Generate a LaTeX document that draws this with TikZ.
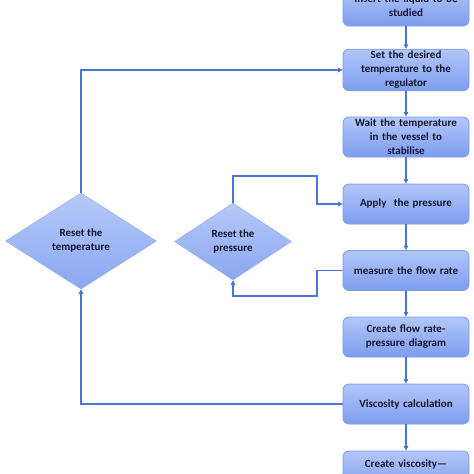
\documentclass[tikz,border=0pt]{standalone}
\usepackage{fontspec}
\setmainfont{Carlito}
\usetikzlibrary{shapes.geometric,arrows.meta}
\definecolor{linkblue}{HTML}{4A74D6}
\definecolor{boxtop}{HTML}{B2C6F8}
\definecolor{boxbot}{HTML}{7D9DEF}
\definecolor{boxline}{HTML}{7B98E0}
\definecolor{txt}{HTML}{14142E}
\begin{document}
\begin{tikzpicture}[x=1pt,y=-1pt,
  stepbox/.style={draw=boxline,line width=0.8pt,rounded corners=6pt,top color=boxtop,bottom color=boxbot,
    minimum width=126pt,minimum height=40pt,text width=120pt,align=center,inner sep=2pt,
    text=txt,font=\fontsize{11}{14}\selectfont\bfseries},
  decide/.style={diamond,draw=boxline!80,line width=0.5pt,top color=boxtop!95!white,bottom color=boxbot!90!white,
    inner sep=0pt,align=center,text=txt,font=\fontsize{11}{14}\selectfont\bfseries},
  flow/.style={draw=linkblue,line width=1.1pt,-{Triangle[width=4.5pt,length=4.5pt]}}]
\useasboundingbox (0,0) rectangle (474,474);
\clip (0,0) rectangle (474,474);
\node[stepbox] (b1) at (406,6) {Insert the liquid to be\\studied};
\node[stepbox] (b2) at (406,70) {Set the desired\\temperature to the\\regulator};
\node[stepbox] (b3) at (406,137) {Wait the temperature\\in the vessel to\\stabilise};
\node[stepbox] (b4) at (406,204) {Apply\ \ the pressure};
\node[stepbox] (b5) at (406,270.5) {measure the flow rate};
\node[stepbox] (b6) at (406,337) {Create flow rate-\\pressure diagram};
\node[stepbox] (b7) at (406,404) {Viscosity calculation};
\node[stepbox] (b8) at (406,471) {Create viscosity---\\\mbox{}};
\node[decide,minimum width=151pt,minimum height=96pt] (tdiam) at (81,241) {Reset the\\temperature};
\node[decide,minimum width=117pt,minimum height=77pt] (pdiam) at (233,241.5) {Reset the\\pressure};
\coordinate (p1) at (317,296);
\coordinate (p2) at (317,176);
\draw[flow] (b1) -- (b2);
\draw[flow] (b2) -- (b3);
\draw[flow] (b3) -- (b4);
\draw[flow] (b4) -- (b5);
\draw[flow] (b5) -- (b6);
\draw[flow] (b6) -- (b7);
\draw[flow] (b7) -- (b8);
\draw[flow] (tdiam.north) |- (b2.west);
\draw[flow] (b7.west) -| (tdiam.south);
\draw[flow] (pdiam.north) |- (p2) |- (b4.west);
\draw[flow] (b5.west) -- (b5.west -| p1) -- (p1) -| (pdiam.south);
\end{tikzpicture}
\end{document}
